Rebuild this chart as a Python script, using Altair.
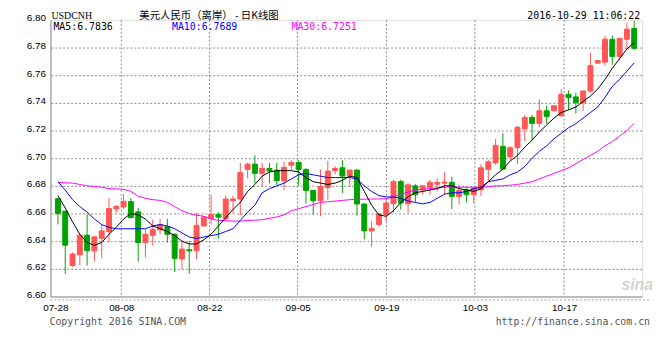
import altair as alt
import pandas as pd

# ---- data (daily USD/CNH candles, 6 bars per week) ----
opens = [6.6707, 6.6617, 6.6224, 6.6302, 6.6443, 6.6331, 6.6421, 6.6469, 6.6633, 6.6648,
         6.6686, 6.6612, 6.6390, 6.6443, 6.6481, 6.6505, 6.6450, 6.6271, 6.6338, 6.6331,
         6.6510, 6.6564, 6.6593, 6.6564, 6.6693, 6.6705, 6.6919, 6.6957, 6.6890, 6.6926,
         6.6914, 6.6836, 6.6950, 6.6969, 6.6919, 6.6767, 6.6693, 6.6788, 6.6910, 6.6931,
         6.6871, 6.6914, 6.6669, 6.6474, 6.6521, 6.6593, 6.6671, 6.6831, 6.6671, 6.6800,
         6.6771, 6.6788, 6.6812, 6.6820, 6.6826, 6.6724, 6.6771, 6.6736, 6.6771, 6.6919,
         6.6967, 6.7086, 6.7010, 6.7076, 6.7212, 6.7295, 6.7252, 6.7343, 6.7343, 6.7307,
         6.7462, 6.7443, 6.7402, 6.7486, 6.7688, 6.7695, 6.7860, 6.7736, 6.7860, 6.7938]
highs = [6.6710, 6.6620, 6.6319, 6.6455, 6.6593, 6.6438, 6.6521, 6.6712, 6.6660, 6.6740,
         6.6712, 6.6640, 6.6486, 6.6557, 6.6562, 6.6562, 6.6457, 6.6402, 6.6402, 6.6605,
         6.6581, 6.6736, 6.6610, 6.6729, 6.6729, 6.6967, 6.6967, 6.7021, 6.6967, 6.6967,
         6.6967, 6.6974, 6.6986, 6.6986, 6.6926, 6.6769, 6.6919, 6.6981, 6.6943, 6.6986,
         6.6916, 6.6919, 6.6672, 6.6545, 6.6600, 6.6700, 6.6843, 6.6845, 6.6819, 6.6812,
         6.6802, 6.6843, 6.6855, 6.6898, 6.6867, 6.6807, 6.6788, 6.6788, 6.6957, 6.6990,
         6.7140, 6.7181, 6.7086, 6.7236, 6.7314, 6.7314, 6.7426, 6.7379, 6.7381, 6.7498,
         6.7490, 6.7474, 6.7490, 6.7764, 6.7712, 6.7886, 6.7886, 6.7867, 6.7979, 6.7993]
lows = [6.6521, 6.6164, 6.6214, 6.6224, 6.6224, 6.6252, 6.6276, 6.6390, 6.6605, 6.6633,
        6.6565, 6.6252, 6.6283, 6.6367, 6.6450, 6.6390, 6.6176, 6.6200, 6.6164, 6.6271,
        6.6505, 6.6521, 6.6419, 6.6552, 6.6600, 6.6586, 6.6855, 6.6819, 6.6795, 6.6819,
        6.6807, 6.6767, 6.6914, 6.6800, 6.6671, 6.6593, 6.6581, 6.6700, 6.6883, 6.6748,
        6.6795, 6.6586, 6.6414, 6.6360, 6.6505, 6.6545, 6.6605, 6.6629, 6.6605, 6.6681,
        6.6736, 6.6736, 6.6760, 6.6736, 6.6633, 6.6664, 6.6681, 6.6676, 6.6724, 6.6826,
        6.6950, 6.6914, 6.6986, 6.6957, 6.7124, 6.7129, 6.7224, 6.7248, 6.7340, 6.7300,
        6.7348, 6.7324, 6.7343, 6.7474, 6.7683, 6.7671, 6.7676, 6.7712, 6.7783, 6.7783]
closes = [6.6600, 6.6371, 6.6307, 6.6443, 6.6331, 6.6431, 6.6474, 6.6636, 6.6652, 6.6688,
          6.6570, 6.6390, 6.6450, 6.6486, 6.6519, 6.6450, 6.6276, 6.6343, 6.6330, 6.6514,
          6.6574, 6.6593, 6.6574, 6.6705, 6.6705, 6.6895, 6.6957, 6.6890, 6.6926, 6.6907,
          6.6838, 6.6933, 6.6969, 6.6919, 6.6767, 6.6693, 6.6795, 6.6907, 6.6926, 6.6871,
          6.6914, 6.6669, 6.6474, 6.6493, 6.6598, 6.6676, 6.6831, 6.6676, 6.6807, 6.6736,
          6.6800, 6.6826, 6.6826, 6.6828, 6.6724, 6.6767, 6.6736, 6.6783, 6.6931, 6.6974,
          6.7093, 6.6921, 6.7076, 6.7224, 6.7295, 6.7252, 6.7343, 6.7302, 6.7379, 6.7462,
          6.7438, 6.7402, 6.7486, 6.7669, 6.7707, 6.7860, 6.7736, 6.7867, 6.7933, 6.7795]
ma5 = [6.673, 6.664, 6.654, 6.645, 6.639, 6.637, 6.639, 6.645, 6.650, 6.656,
       6.660, 6.659, 6.656, 6.651, 6.649, 6.647, 6.644, 6.640, 6.638, 6.638,
       6.641, 6.645, 6.651, 6.657, 6.663, 6.668, 6.676, 6.681, 6.687, 6.690,
       6.691, 6.691, 6.691, 6.690, 6.686, 6.683, 6.682, 6.681, 6.682, 6.684,
       6.687, 6.686, 6.676, 6.666, 6.659, 6.658, 6.662, 6.668, 6.672, 6.675,
       6.676, 6.677, 6.678, 6.680, 6.680, 6.678, 6.677, 6.676, 6.678, 6.683,
       6.688, 6.692, 6.698, 6.702, 6.708, 6.713, 6.719, 6.724, 6.729, 6.733,
       6.735, 6.737, 6.741, 6.745, 6.750, 6.757, 6.765, 6.772, 6.779, 6.7836]
ma10 = [6.683, 6.677, 6.670, 6.665, 6.661, 6.656, 6.652, 6.650, 6.649, 6.649,
        6.649, 6.649, 6.649, 6.651, 6.652, 6.651, 6.649, 6.646, 6.643, 6.642,
        6.643, 6.644, 6.645, 6.647, 6.649, 6.655, 6.661, 6.666, 6.675, 6.678,
        6.680, 6.682, 6.685, 6.688, 6.689, 6.688, 6.687, 6.686, 6.686, 6.686,
        6.686, 6.685, 6.680, 6.676, 6.673, 6.672, 6.672, 6.671, 6.669, 6.668,
        6.667, 6.668, 6.671, 6.674, 6.675, 6.675, 6.676, 6.678, 6.679, 6.683,
        6.684, 6.685, 6.688, 6.690, 6.694, 6.700, 6.705, 6.709, 6.714, 6.718,
        6.722, 6.725, 6.729, 6.733, 6.737, 6.744, 6.752, 6.757, 6.763, 6.7689]
ma30 = [6.6825, 6.6822, 6.682, 6.681, 6.680, 6.6795, 6.679, 6.678, 6.6778, 6.6775,
        6.676, 6.6725, 6.671, 6.670, 6.6695, 6.668, 6.665, 6.662, 6.660, 6.6588,
        6.658, 6.656, 6.655, 6.6548, 6.6545, 6.6545, 6.655, 6.6552, 6.6555, 6.6565,
        6.6575, 6.659, 6.662, 6.6635, 6.665, 6.6665, 6.668, 6.6685, 6.669, 6.6695,
        6.670, 6.6703, 6.6703, 6.6705, 6.6705, 6.6707, 6.672, 6.674, 6.6755, 6.677,
        6.6775, 6.678, 6.6785, 6.679, 6.6795, 6.679, 6.679, 6.679, 6.679, 6.6795,
        6.680, 6.680, 6.6805, 6.681, 6.682, 6.683, 6.685, 6.687, 6.689, 6.691,
        6.693, 6.696, 6.699, 6.702, 6.705, 6.709, 6.712, 6.716, 6.720, 6.7251]

x_tick_pos = [-0.346, 8.68, 20.77, 32.85, 45.04, 57.16, 69.39]
x_tick_labels = ["07-28", "08-08", "08-22", "09-05", "09-19", "10-03", "10-17"]
y_ticks = [6.60, 6.62, 6.64, 6.66, 6.68, 6.70, 6.72, 6.74, 6.76, 6.78, 6.80]

RED = "#ff5656"
GREEN = "#03a203"
BLUE_LABEL = "#1f7ac6"
MONO = "DejaVu Sans Mono"
GRID = "#8a8a8a"

n = len(closes)
candles = pd.DataFrame({
    "i": list(range(n)),
    "open": opens, "high": highs, "low": lows, "close": closes,
})
candles["dir"] = ["up" if c >= o else "down" for o, c in zip(opens, closes)]
ma_df = pd.DataFrame({"i": list(range(n)), "ma5": ma5, "ma10": ma10, "ma30": ma30})

# label expression built from the tick lists
expr = f"'{x_tick_labels[-1]}'"
for k in range(len(x_tick_pos) - 2, -1, -1):
    mid = (x_tick_pos[k] + x_tick_pos[k + 1]) / 2
    expr = f"datum.value < {mid:.3f} ? '{x_tick_labels[k]}' : ({expr})"

xscale = alt.Scale(domain=[-0.346, 79.41], nice=False, zero=False)
yscale = alt.Scale(domain=[6.60, 6.80], nice=False, zero=False)
dir_scale = alt.Scale(domain=["up", "down"], range=[RED, GREEN])

x_axis = alt.Axis(values=x_tick_pos, labelExpr=expr, title=None, labelPadding=6,
                  ticks=False, tickSize=0, grid=False,
                  labelOverlap=False, labelBound=False, labelFlush=False)
y_axis = alt.Axis(values=y_ticks, format=".2f", title=None, labelPadding=5,
                  ticks=False, tickSize=0, grid=False,
                  labelBaseline="middle", labelOffset=-2, labelOverlap=False,
                  labelBound=False, labelFlush=False)

X = alt.X("i:Q", scale=xscale, axis=x_axis)

def Y(field):
    return alt.Y(f"{field}:Q", scale=yscale, axis=y_axis)

# dotted grid drawn from the tick lists
hgrid = alt.Chart(pd.DataFrame({"v": y_ticks[1:-1]})).mark_rule(
    color=GRID, strokeDash=[2, 2], strokeWidth=1, yOffset=0.5
).encode(y=Y("v"))
vgrid = alt.Chart(pd.DataFrame({"p": x_tick_pos[1:]})).mark_rule(
    color=GRID, strokeDash=[2, 2], strokeWidth=1
).encode(x=alt.X("p:Q", scale=xscale, axis=x_axis))

base = alt.Chart(candles)

wicks = base.mark_rule(strokeWidth=1).encode(
    x=X, y=Y("low"), y2="high:Q",
    color=alt.Color("dir:N", scale=dir_scale, legend=None),
)

bodies = base.mark_bar(size=5, strokeWidth=1).encode(
    x=X, y=Y("open"), y2="close:Q",
    color=alt.Color("dir:N", scale=dir_scale, legend=None),
    stroke=alt.Stroke("dir:N", scale=dir_scale, legend=None),
)

def ma_line(field, color):
    return alt.Chart(ma_df).mark_line(strokeWidth=1, color=color).encode(x=X, y=Y(field))

line30 = ma_line("ma30", "#ff00ff")
line10 = ma_line("ma10", "#0000ff")
line5 = ma_line("ma5", "#000000")

def label(text, x, y, color="#000000", size=10, font=MONO, align="left", **kw):
    return alt.Chart(pd.DataFrame({"t": [text]})).mark_text(
        align=align, baseline="middle", font=font, fontSize=size, color=color, **kw
    ).encode(x=alt.value(x), y=alt.value(y), text="t:N")

texts = [
    label("USDCNH", 1, -4, size=10, font="Liberation Serif"),
    label("美元人民币（离岸） -  日K线图", 90, -3.5, size=10.5, font="Noto Sans CJK SC"),
    label("2016-10-29 11:06:22", 597, -4, size=10, align="right"),
    label("MA5:6.7836", 3, 7.5, color="#000000"),
    label("MA10:6.7689", 123, 7.5, color="#0000ff"),
    label("MA30:6.7251", 244, 7.5, color="#ff00ff"),
    label("Copyright 2016 SINA.COM", -1, 306, color="#555555"),
    label("http://finance.sina.com.cn", 607, 306, color="#555555", align="right"),
    label("sina", 578, 268, color="#d4d4d4", size=16, font="Liberation Sans",
          fontStyle="italic", fontWeight="bold"),
]

under_rule = alt.Chart(pd.DataFrame({"a": [0]})).mark_rule(
    color="#a0a0a0", strokeDash=[2, 2], strokeWidth=1
).encode(x=alt.value(0), x2=alt.value(607), y=alt.value(283.5))

chart = alt.layer(hgrid, vgrid, wicks, bodies, line30, line10, line5, under_rule,
                  *texts).properties(
    width=599, height=280,
    autosize=alt.AutoSizeParams(type="none"),
    padding={"left": 43, "top": 10, "right": 10, "bottom": 44},
).configure_axis(
    grid=False, ticks=False, tickSize=0, domainColor="#a0a0a0", domainWidth=2,
    labelColor=BLUE_LABEL, labelFont=MONO, labelFontSize=10,
    labelOverlap=False,
).configure_view(stroke="#a8a8a8", strokeWidth=1).configure(background="white")

chart.save("out.html", embed_options={"renderer": "svg", "actions": False})
